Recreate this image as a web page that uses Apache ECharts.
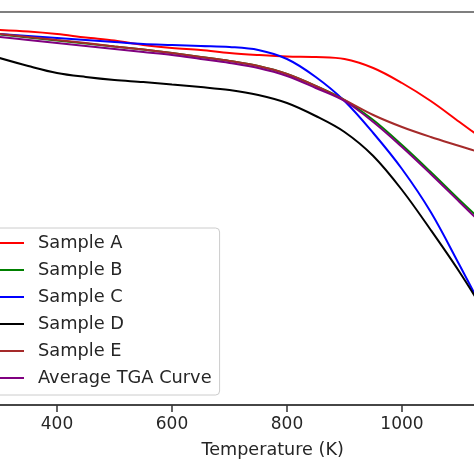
<!DOCTYPE html>
<html>
<head>
<meta charset="utf-8">
<script src="https://cdn.jsdelivr.net/npm/echarts@6/dist/echarts.min.js"></script>
<style>html,body{margin:0;padding:0;background:#fff}#c{width:474px;height:474px}</style>
</head>
<body>
<div id="c"></div>
<script>
// Temperature (K)
const temps = [300, 350, 400, 450, 500, 550, 600, 650, 700, 750, 800, 850, 900, 950, 1000, 1050, 1100, 1150];
// Weight (%)
const sampleA = [98.2, 98.05, 97.8, 97.45, 97.15, 96.7, 96.4, 96.2, 95.9, 95.7, 95.55, 95.5, 95.3, 94.4, 92.9, 91.1, 89.0, 86.9];
const sampleB = [97.75, 97.45, 97.15, 96.85, 96.55, 96.25, 95.9, 95.5, 95.1, 94.6, 93.8, 92.6, 91.2, 89.2, 86.7, 84.0, 81.2, 78.5];
const sampleC = [97.8, 97.6, 97.4, 97.2, 97.0, 96.8, 96.7, 96.6, 96.5, 96.2, 95.3, 93.5, 91.1, 87.9, 84.3, 80.0, 74.7, 69.2];
const sampleD = [95.4, 94.6, 93.9, 93.5, 93.2, 93.0, 92.75, 92.5, 92.2, 91.7, 90.9, 89.6, 88.0, 85.6, 82.2, 78.2, 74.0, 69.4];
const sampleE = [97.8, 97.5, 97.2, 96.9, 96.55, 96.25, 95.9, 95.5, 95.1, 94.6, 93.8, 92.6, 91.2, 89.7, 88.5, 87.5, 86.6, 85.7];
const avgCurve = [97.5, 97.2, 96.9, 96.6, 96.3, 96.0, 95.7, 95.3, 94.9, 94.4, 93.6, 92.4, 91.1, 89.0, 86.5, 83.8, 81.0, 78.2];

const seriesNames = ['Sample A', 'Sample B', 'Sample C', 'Sample D', 'Sample E', 'Average TGA Curve'];
const seriesValues = [sampleA, sampleB, sampleC, sampleD, sampleE, avgCurve];
const seriesColors = ['#ff0000', '#008000', '#0000ff', '#000000', '#a52a2a', '#800080'];

const txt = '#262626';
const font = 'DejaVu Sans';

const chart = echarts.init(document.getElementById('c'), null, {renderer: 'canvas'});
chart.setOption({
  animation: false,
  backgroundColor: '#ffffff',
  grid: {
    left: -58, right: -129.25, top: 12, bottom: 69,
    containLabel: false, outerBoundsMode: 'none',
    show: true, borderColor: '#555', borderWidth: 1.5, backgroundColor: 'transparent'
  },
  xAxis: {
    type: 'value', min: 200, max: 1350, interval: 200,
    name: 'Temperature (K)', nameLocation: 'middle', nameGap: 36,
    nameTextStyle: {fontFamily: font, fontSize: 17.6, color: txt},
    axisLine: {show: true, lineStyle: {color: '#333', width: 1.5}},
    axisTick: {show: true, length: 7, lineStyle: {color: '#333', width: 1.5}},
    axisLabel: {fontFamily: font, fontSize: 17, color: txt, margin: 11, showMaxLabel: false,
      formatter: v => String(v)},
    splitLine: {show: false}
  },
  yAxis: {
    type: 'value', min: 60.7, max: 100,
    axisLine: {show: false}, axisTick: {show: false}, axisLabel: {show: false}, splitLine: {show: false}
  },
  legend: {
    orient: 'vertical', left: -18, top: 228,
    padding: [5, 8, 7, 8], itemGap: 7, itemWidth: 34, itemHeight: 2,
    icon: 'rect',
    backgroundColor: 'rgba(255,255,255,0.8)', borderColor: '#cccccc', borderWidth: 1, borderRadius: 4,
    textStyle: {fontFamily: font, fontSize: 17.8, color: txt, lineHeight: 20, padding: [0, 0, 0, 9]},
    data: seriesNames
  },
  series: seriesNames.map((n, i) => ({
    name: n, type: 'line', smooth: 0.35, symbol: 'none', showSymbol: false,
    color: seriesColors[i],
    lineStyle: {color: seriesColors[i], width: 2},
    data: temps.map((t, j) => [t, seriesValues[i][j]])
  }))
});
</script>
</body>
</html>
